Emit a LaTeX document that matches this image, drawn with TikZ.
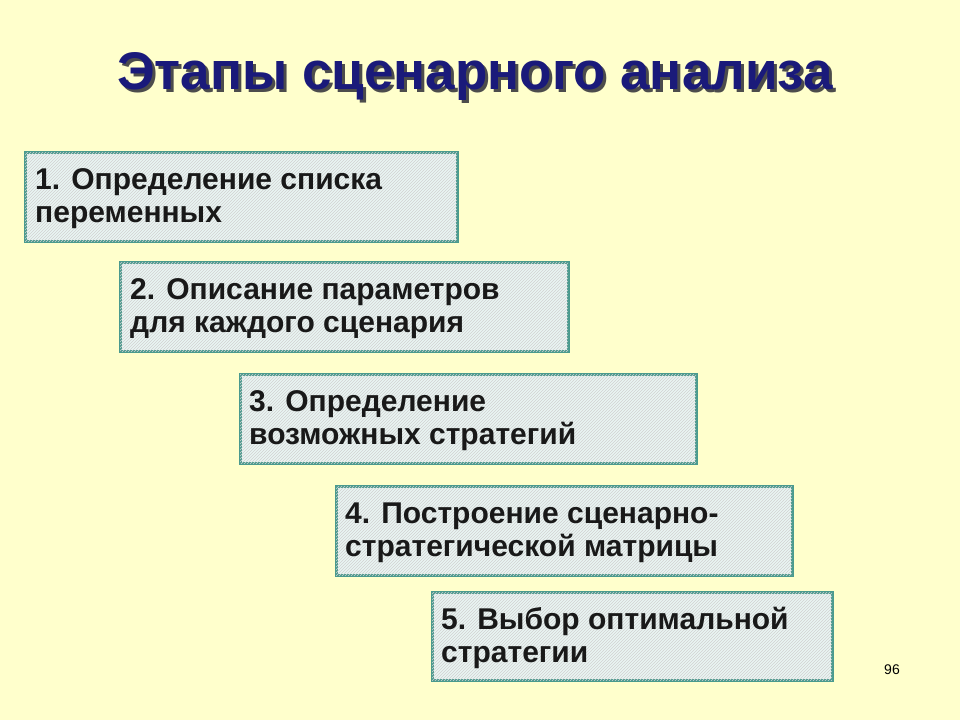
\documentclass[tikz,border=0pt]{standalone}
\usepackage{fontspec}
\setmainfont{Liberation Sans}
\usetikzlibrary{patterns}
\definecolor{bg}{HTML}{FFFFCC}
\definecolor{bfill}{HTML}{EAF5F3}
\definecolor{bdraw}{HTML}{4A9A8E}
\definecolor{ttl}{HTML}{1A1A7A}
\tikzset{stepbox/.style={draw=bdraw,line width=3pt,fill=bfill,postaction={pattern=north east lines,pattern color=black!18}},
 steptext/.style={anchor=west,align=left,inner sep=0pt,font=\fontsize{30}{33}\selectfont\bfseries,text=black!90}}
\begin{document}
\begin{tikzpicture}[x=1pt,y=-1pt]
\fill[bg] (0,0) rectangle (960,720);
\useasboundingbox (0,0) rectangle (960,720);
\node[font=\fontsize{53}{58}\selectfont\bfseries,text=black!70] at (478,79) {Этапы сценарного анализа};
\node[font=\fontsize{53}{58}\selectfont\bfseries,text=ttl] (title) at (475,76) {Этапы сценарного анализа};
\draw[stepbox] (25,152) rectangle (457,241);
\node[steptext] (s1) at (35,199) {1. Определение списка\\переменных};
\draw[stepbox] (120,262) rectangle (568,351);
\node[steptext] (s2) at (130,309) {2. Описание параметров\\для каждого сценария};
\draw[stepbox] (240,374) rectangle (696,463);
\node[steptext] (s3) at (249,421) {3. Определение\\возможных стратегий};
\draw[stepbox] (336,486) rectangle (792,575);
\node[steptext] (s4) at (345,533) {4. Построение сценарно-\\стратегической матрицы};
\draw[stepbox] (432,592) rectangle (832,680);
\node[steptext] (s5) at (441,638) {5. Выбор оптимальной\\стратегии};
\node[font=\fontsize{14}{16}\selectfont] (pg) at (892,670) {96};
\end{tikzpicture}
\end{document}
